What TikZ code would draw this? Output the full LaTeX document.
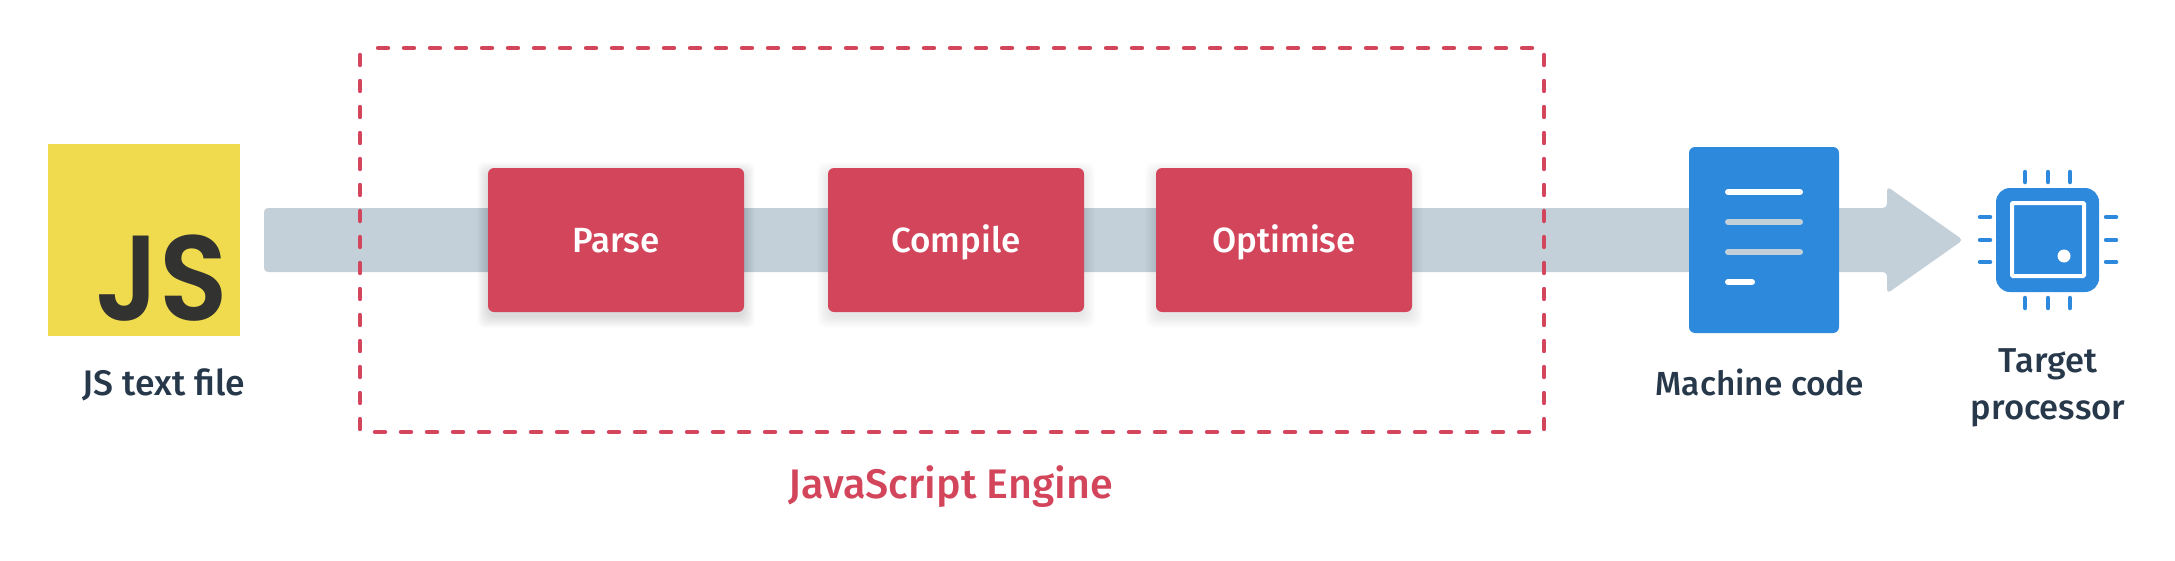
\documentclass[tikz,border=0pt]{standalone}
\usepackage{fontspec}
\setmainfont{Fira Sans Medium}
\newfontfamily\logofont{Poppins SemiBold}
\definecolor{jsred}{HTML}{D3455B}
\definecolor{jsblue}{HTML}{2D89DC}
\definecolor{barc}{HTML}{C3D0DA}
\definecolor{jsyellow}{HTML}{F0DB4F}
\definecolor{jsdark}{HTML}{323330}
\definecolor{labelc}{HTML}{26384A}
\tikzset{
  stagebox/.style={fill=jsred,text=white,rounded corners=6pt,minimum width=256pt,minimum height=144pt,inner sep=0pt,
    text height=24pt,text depth=0pt,font=\fontsize{35}{35}\selectfont},
  caption/.style={text=labelc,inner sep=0pt,anchor=base,font=\fontsize{33.4}{47}\selectfont},
  frameline/.style={draw=jsred,line width=4.4pt,line cap=round,dash pattern=on 10pt off 16pt},
  docline/.style={line width=6pt,line cap=round},
  pin/.style={draw=jsblue,line width=4.5pt,line cap=round},
}
\newcommand{\softshadow}[5]{%
  \foreach \s in {1,...,12}{
    \fill[black,opacity=#5,rounded corners=8pt] (#1-12+\s,#2-12+\s+5) rectangle (#3+12-\s,#4+12-\s+5);
  }}
\begin{document}
\begin{tikzpicture}[x=1pt,y=-1pt]
\useasboundingbox (0,0) rectangle (2175,560);
\fill[white] (0,0) rectangle (2175,560);
% flow arrow
\coordinate (tail) at (264,240);
\coordinate (tip) at (1963,240);
\fill[barc,rounded corners=4pt] (tail |- 0,208) -- (1887,208) -- (1887,186.5) -- (tip) -- (1887,293.5) -- (1887,272) -- (tail |- 0,272) -- cycle;
% JS file
\node[fill=jsyellow,minimum width=192pt,minimum height=192pt,inner sep=0pt] (jsfile) at (144,240) {};
\node[text=jsdark,inner sep=0pt,anchor=base,xscale=0.93,font=\fontsize{121}{121}\logofont] (jslogo) at (162,320) {JS};
\node[caption,font=\fontsize{35.5}{47}\selectfont] (jslabel) at (164,395) {JS text file};
% shadows and stages
\softshadow{488}{168}{744}{312}{0.012}
\softshadow{828}{168}{1084}{312}{0.007}
\softshadow{1156}{168}{1412}{312}{0.007}
\node[stagebox] (parse) at (616,240) {Parse};
\node[stagebox] (compile) at (956,240) {Compile};
\node[stagebox] (optimise) at (1284,240) {Optimise};
% engine frame
\draw[frameline] (378,48) -- (1532,48) (1544,55) -- (1544,429) (360,55) -- (360,429) (375,432) -- (1529,432);
\node[text=jsred,inner sep=0pt,anchor=base,font=\fontsize{41.3}{42}\selectfont] (engine) at (950.5,498) {JavaScript Engine};
% machine code
\node[fill=jsblue,rounded corners=6pt,minimum width=150pt,minimum height=186pt,inner sep=0pt] (doc) at (1764,240) {};
\draw[docline,white] (1728,192) -- (1800,192);
\draw[docline,barc] (1728,222) -- (1800,222);
\draw[docline,barc] (1728,252) -- (1800,252);
\draw[docline,white] (1728,282) -- (1752,282);
\node[caption] (doclabel) at (1760,395) {Machine code};
% chip
\node[fill=jsblue,rounded corners=14pt,minimum width=103pt,minimum height=104pt,inner sep=0pt] (chip) at (2047.5,240) {};
\draw[white,line width=4pt,rounded corners=1pt] (2012,203) rectangle (2084,276);
\fill[white] (2064,256) circle (6.5);
\foreach \x in {2025,2048,2070}{
  \draw[pin] (\x,172) -- (\x,182);
  \draw[pin] (\x,298) -- (\x,308);
}
\foreach \y in {217,240,262}{
  \draw[pin] (1980,\y) -- (1990,\y);
  \draw[pin] (2106,\y) -- (2116,\y);
}
\node[caption,align=center,anchor=base,font=\fontsize{34.5}{47}\selectfont] (chiplabel) at (2048,419) {Target\\processor};
\end{tikzpicture}
\end{document}
